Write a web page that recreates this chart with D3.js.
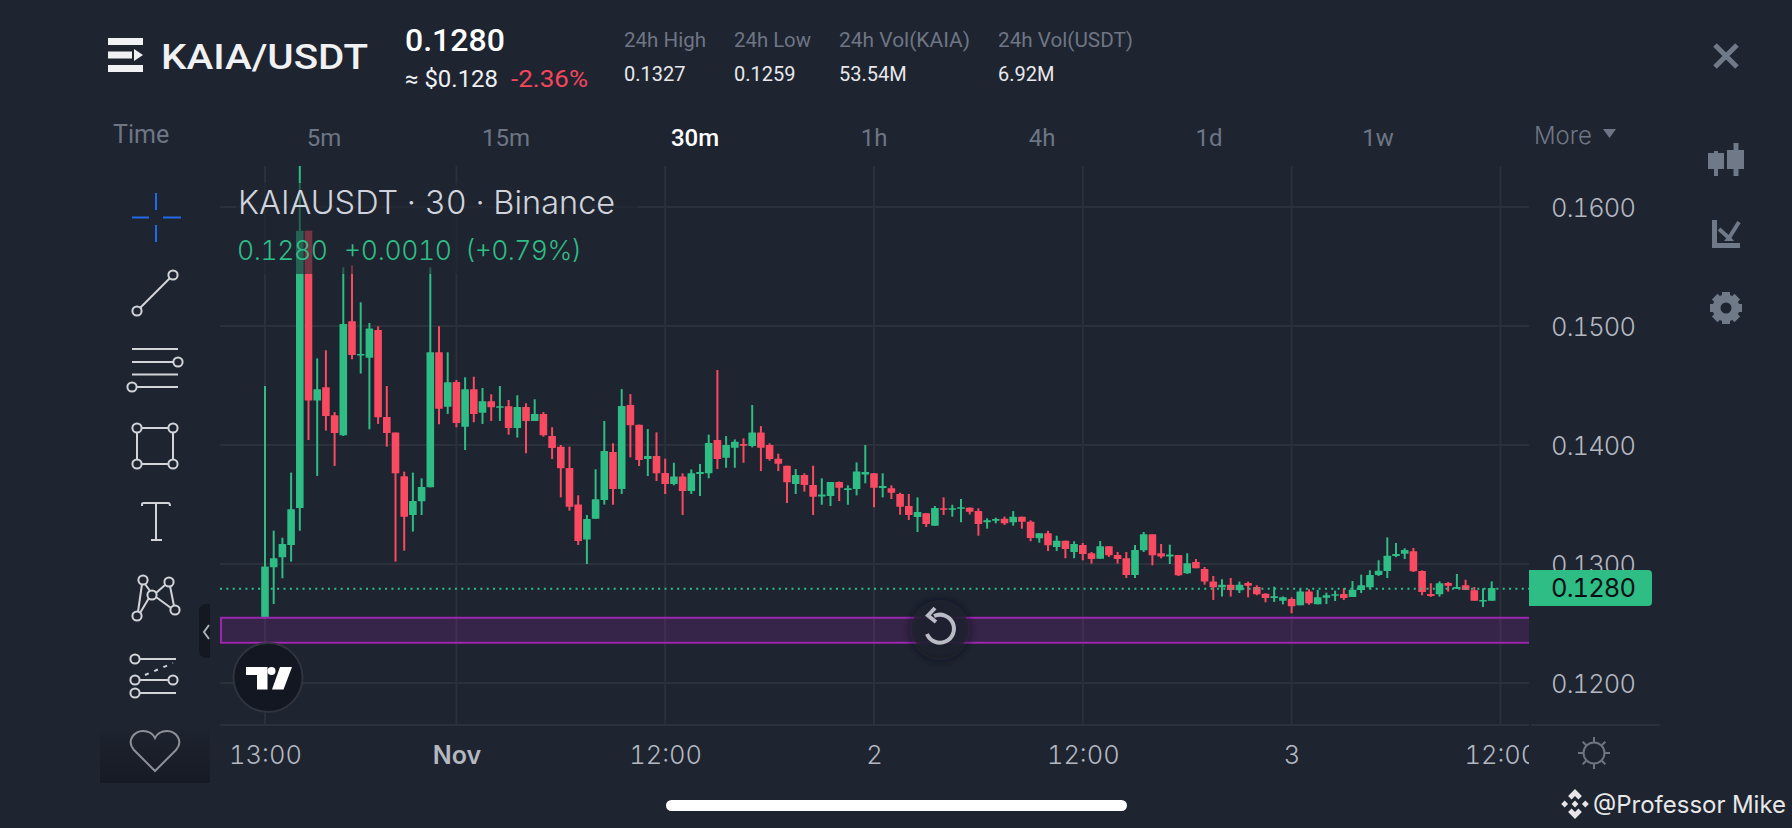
<!DOCTYPE html>
<html>
<head>
<meta charset="utf-8">
<title>KAIA/USDT</title>
<script src="https://cdn.jsdelivr.net/npm/d3@7"></script>
<style>
  html, body { margin: 0; padding: 0; background: #1e2430; overflow: hidden; }
  svg { display: block; }
  text { font-family: Inter, Roboto, sans-serif; font-variant-numeric: tabular-nums; }
  .head text { font-family: Roboto, sans-serif; }
</style>
</head>
<body>
<svg id="chart" width="1792" height="828"></svg>
<script>
const opens = [
  .12546,.12972,.13056,.13160,.13471,.15801,.14373,.14485,.14249,.14081,
  .15039,.14754,.14734,.14966,.14236,.14104,.13737,.13412,.13527,.13644,
  .14779,.14322,.14530,.14154,.14468,.14272,.14367,.14317,.14325,.14143,
  .14319,.14202,.14261,.14076,.13986,.13807,.13499,.13205,.13381,.13538,
  .13941,.13630,.14336,.14171,.13882,.13907,.13764,.13672,.13736,.13613,
  .13756,.13762,.14042,.13893,.13977,.14008,.13991,.14106,.14000,.13885,
  .13826,.13672,.13748,.13664,.13568,.13571,.13689,.13622,.13630,.13753,
  .13762,.13638,.13636,.13588,.13487,.13395,.13426,.13322,.13468,.13459,
  .13465,.13473,.13445,.13350,.13364,.13381,.13350,.13398,.13356,.13216,
  .13258,.13143,.13196,.13101,.13160,.13090,.13045,.13149,.13076,.13048,
  .12908,.13115,.13249,.13090,.13062,.13076,.12922,.13017,.12958,.12852,
  .12804,.12826,.12779,.12840,.12807,.12751,.12714,.12692,.12706,.12653,
  .12768,.12661,.12717,.12737,.12748,.12723,.12782,.12804,.12908,.12941,
  .13067,.13087,.13107,.12941,.12748,.12745,.12840,.12793,.12821,.12779,
  .12692,.12692
];
const highs = [
  .14496,.13280,.13221,.13768,.16347,.15801,.14728,.14796,.14277,.15493,
  .15510,.15199,.15025,.14997,.14496,.14104,.13776,.13768,.13720,.15493,
  .14997,.14779,.14546,.14569,.14574,.14479,.14426,.14496,.14378,.14418,
  .14350,.14384,.14277,.14149,.14000,.13986,.13577,.13412,.13796,.14202,
  .14014,.14470,.14428,.14171,.14134,.14106,.13885,.13851,.13762,.13795,
  .13840,.14087,.14630,.14075,.14047,.14056,.14336,.14159,.14014,.13927,
  .13826,.13798,.13762,.13826,.13720,.13689,.13694,.13661,.13854,.14000,
  .13764,.13762,.13661,.13599,.13588,.13560,.13426,.13487,.13560,.13498,
  .13546,.13476,.13468,.13384,.13389,.13398,.13445,.13398,.13367,.13258,
  .13280,.13238,.13196,.13191,.13177,.13101,.13193,.13149,.13101,.13101,
  .13160,.13269,.13249,.13168,.13163,.13076,.13090,.13042,.12975,.12899,
  .12871,.12882,.12852,.12852,.12821,.12754,.12810,.12728,.12720,.12787,
  .12787,.12782,.12759,.12776,.12798,.12857,.12910,.12947,.13031,.13224,
  .13177,.13132,.13135,.12947,.12838,.12854,.12849,.12916,.12868,.12807,
  .12796,.12854
];
const lows = [
  .12546,.12664,.12880,.13020,.13280,.14042,.13740,.14121,.13824,.14076,
  .14720,.14600,.14132,.14177,.13986,.13020,.13112,.13272,.13412,.13644,
  .14174,.14261,.14149,.13958,.14191,.14177,.14202,.14202,.14087,.14062,
  .13930,.14202,.14070,.13882,.13560,.13448,.13160,.13000,.13381,.13499,
  .13498,.13588,.13896,.13823,.13739,.13697,.13588,.13661,.13412,.13588,
  .13571,.13720,.13798,.13809,.13809,.13851,.13980,.13781,.13868,.13781,
  .13512,.13588,.13608,.13412,.13498,.13487,.13529,.13498,.13577,.13678,
  .13476,.13560,.13546,.13414,.13370,.13269,.13311,.13322,.13412,.13398,
  .13350,.13417,.13238,.13297,.13342,.13328,.13322,.13297,.13191,.13179,
  .13109,.13109,.13048,.13048,.13031,.13003,.13045,.13059,.13003,.12882,
  .12882,.13101,.12989,.13048,.13000,.12899,.12916,.12964,.12826,.12698,
  .12726,.12726,.12756,.12720,.12737,.12678,.12681,.12661,.12586,.12653,
  .12658,.12661,.12664,.12689,.12698,.12723,.12756,.12787,.12899,.12882,
  .13056,.13042,.12933,.12737,.12723,.12726,.12768,.12790,.12782,.12692,
  .12639,.12692
];
const closes = [
  .12978,.13048,.13168,.13460,.15801,.14373,.14468,.14244,.14101,.15017,
  .14756,.14765,.14980,.14233,.14101,.13762,.13398,.13530,.13647,.14779,
  .14305,.14527,.14185,.14468,.14261,.14367,.14317,.14325,.14143,.14319,
  .14202,.14261,.14081,.13975,.13804,.13482,.13193,.13378,.13544,.13950,
  .13630,.14327,.14165,.13874,.13907,.13762,.13672,.13736,.13613,.13762,
  .13773,.14017,.13882,.14000,.14028,.13994,.14106,.13977,.13882,.13843,
  .13686,.13748,.13664,.13566,.13585,.13689,.13641,.13636,.13778,.13773,
  .13641,.13655,.13599,.13482,.13412,.13437,.13336,.13470,.13456,.13468,
  .13476,.13440,.13336,.13367,.13378,.13342,.13398,.13356,.13219,.13258,
  .13157,.13196,.13126,.13168,.13084,.13042,.13149,.13073,.13042,.12908,
  .13118,.13249,.13073,.13062,.13079,.12905,.13006,.12964,.12852,.12804,
  .12826,.12782,.12826,.12818,.12745,.12714,.12728,.12720,.12644,.12768,
  .12670,.12720,.12737,.12745,.12714,.12784,.12821,.12908,.12944,.13070,
  .13084,.13118,.12939,.12765,.12731,.12838,.12818,.12807,.12782,.12692,
  .12698,.12798
];

const priceTicks = [0.12, 0.13, 0.14, 0.15, 0.16];
const timeTickIndex = [0, 22, 46, 70, 94, 118, 142];
const timeTickLabels = ['13:00', 'Nov', '12:00', '2', '12:00', '3', '12:00'];
const lastPrice = 0.128;
const zoneTop = 0.12548;
const zoneBottom = 0.12338;

const tabs = ['5m', '15m', '30m', '1h', '4h', '1d', '1w'];
const tabCenters = [324, 506, 695, 874, 1042, 1209, 1378];
const statLabels = ['24h High', '24h Low', '24h Vol(KAIA)', '24h Vol(USDT)'];
const statValues = ['0.1327', '0.1259', '53.54M', '6.92M'];
const statLeft = [624, 734, 839, 998];
const statWidth = [82, 77, 131, 135];

const BG = '#1e2430', GRID = '#2b303b', UP = '#2ebd85', DOWN = '#fa4a61';
const MUTED = '#6e7685', TOOL = '#d3d4d8';
const plot = { left: 220, right: 1529, top: 166, bottom: 725 };

const t0 = Date.UTC(2024, 9, 31, 13, 0);
const HALF_HOUR = 30 * 60 * 1000;
const timeAt = i => new Date(t0 + i * HALF_HOUR);

const x = d3.scaleUtc().domain([timeAt(0), timeAt(142)]).range([265, 1500.4]);
const y = d3.scaleLinear().domain([0.16, 0.12]).range([207, 683]);

const svg = d3.select('#chart');
svg.append('rect').attr('width', 1792).attr('height', 828).attr('fill', BG);

const defs = svg.append('defs');
defs.append('clipPath').attr('id', 'plotClip').append('rect')
  .attr('x', plot.left).attr('y', plot.top)
  .attr('width', plot.right - plot.left).attr('height', plot.bottom - plot.top);
defs.append('clipPath').attr('id', 'timeClip').append('rect')
  .attr('x', 200).attr('y', 728).attr('width', plot.right - 200).attr('height', 60);
const fade = defs.append('linearGradient').attr('id', 'fade')
  .attr('x1', 0).attr('y1', 0).attr('x2', 0).attr('y2', 1);
fade.append('stop').attr('offset', 0).attr('stop-color', '#161a24').attr('stop-opacity', 0);
fade.append('stop').attr('offset', 1).attr('stop-color', '#161a24').attr('stop-opacity', 1);
const shadow = defs.append('filter').attr('id', 'btnShadow')
  .attr('x', '-40%').attr('y', '-40%').attr('width', '180%').attr('height', '180%');
shadow.append('feGaussianBlur').attr('stdDeviation', 4);

// grid
const grid = svg.append('g');
grid.selectAll('line.h').data(priceTicks).enter().append('line')
  .attr('class', 'h')
  .attr('x1', plot.left).attr('x2', plot.right)
  .attr('y1', d => y(d)).attr('y2', d => y(d))
  .attr('stroke', GRID).attr('stroke-width', 2);
grid.selectAll('line.v').data(timeTickIndex).enter().append('line')
  .attr('class', 'v')
  .attr('x1', d => x(timeAt(d))).attr('x2', d => x(timeAt(d)))
  .attr('y1', plot.top).attr('y2', plot.bottom)
  .attr('stroke', GRID).attr('stroke-width', 2);
grid.append('line').attr('x1', plot.left).attr('x2', plot.right)
  .attr('y1', plot.bottom).attr('y2', plot.bottom).attr('stroke', GRID).attr('stroke-width', 2);
grid.append('line').attr('x1', plot.right + 2).attr('x2', 1660)
  .attr('y1', plot.bottom).attr('y2', plot.bottom).attr('stroke', GRID).attr('stroke-width', 2);

// candles
const candles = svg.append('g').attr('clip-path', 'url(#plotClip)');
const idx = d3.range(opens.length);
const candleColor = i => closes[i] >= opens[i] ? UP : DOWN;
candles.selectAll('line.wick').data(idx).enter().append('line')
  .attr('class', 'wick')
  .attr('x1', i => x(timeAt(i))).attr('x2', i => x(timeAt(i)))
  .attr('y1', i => y(highs[i])).attr('y2', i => y(lows[i]))
  .attr('stroke', candleColor).attr('stroke-width', 2);
candles.selectAll('rect.body').data(idx).enter().append('rect')
  .attr('class', 'body')
  .attr('x', i => x(timeAt(i)) - 3.8).attr('width', 7.6)
  .attr('y', i => y(Math.max(opens[i], closes[i])))
  .attr('height', i => Math.max(1.5, Math.abs(y(opens[i]) - y(closes[i]))))
  .attr('rx', 0.5)
  .attr('fill', candleColor);

// drawn zone
svg.append('rect')
  .attr('x', plot.left + 1).attr('width', plot.right - plot.left - 1)
  .attr('y', y(zoneTop)).attr('height', y(zoneBottom) - y(zoneTop))
  .attr('fill', 'rgba(156,39,176,0.2)');
svg.selectAll('line.zone').data([zoneTop, zoneBottom]).enter().append('line')
  .attr('class', 'zone')
  .attr('x1', plot.left).attr('x2', plot.right)
  .attr('y1', d => y(d)).attr('y2', d => y(d))
  .attr('stroke', '#9b27af').attr('stroke-width', 2);
svg.append('line')
  .attr('x1', plot.left + 1).attr('x2', plot.left + 1)
  .attr('y1', y(zoneTop)).attr('y2', y(zoneBottom))
  .attr('stroke', '#9b27af').attr('stroke-width', 2);

// last price line
svg.append('line')
  .attr('x1', plot.left).attr('x2', plot.right)
  .attr('y1', y(lastPrice) + 1).attr('y2', y(lastPrice) + 1)
  .attr('stroke', UP).attr('stroke-width', 2).attr('stroke-dasharray', '2 4.35');

// legend veil over the candles
svg.append('rect').attr('x', 236).attr('y', 183).attr('width', 402).attr('height', 45)
  .attr('fill', BG).attr('fill-opacity', 0.6);
svg.append('rect').attr('x', 236).attr('y', 228).attr('width', 352).attr('height', 46)
  .attr('fill', BG).attr('fill-opacity', 0.6);
svg.append('text').attr('x', 238).attr('y', 214)
  .attr('font-size', 32.5).attr('font-weight', 300).attr('fill', '#d1d4dc')
  .text('KAIAUSDT · 30 · Binance');
const legendParts = ['0.1280', '+0.0010', '(+0.79%)'];
const legendLeft = [237, 344, 465];
const legendWidth = [91, 108, 117];
svg.selectAll('text.legend').data(legendParts).enter().append('text')
  .attr('class', 'legend')
  .attr('x', (d, i) => legendLeft[i]).attr('y', 260)
  .attr('textLength', (d, i) => legendWidth[i])
  .attr('font-size', 26.5).attr('font-weight', 300).attr('fill', UP)
  .text(d => d);

// price axis
const yAxis = svg.append('g').attr('transform', 'translate(1551,0)')
  .call(d3.axisRight(y).tickValues(priceTicks).tickFormat(d3.format('.4f')).tickSize(0).tickPadding(0));
yAxis.select('.domain').remove();
yAxis.selectAll('text')
  .attr('font-size', 25.5).attr('font-weight', 300).attr('fill', '#b4b8c0')
  .attr('font-family', 'Inter, Roboto, sans-serif')
  .attr('textLength', 85)
  .attr('dy', '0.36em');

svg.append('path')
  .attr('d', 'M1529,570 H1648 a4,4 0 0 1 4,4 V602 a4,4 0 0 1 -4,4 H1529 Z')
  .attr('fill', UP);
svg.append('text').attr('x', 1551).attr('y', y(lastPrice))
  .attr('dy', '0.36em')
  .attr('textLength', 85)
  .attr('font-size', 25.5).attr('font-weight', 400).attr('fill', '#0a0d12')
  .text(d3.format('.4f')(lastPrice));

// time axis
const xAxis = svg.append('g').attr('clip-path', 'url(#timeClip)')
  .append('g').attr('transform', 'translate(0,740)')
  .call(d3.axisBottom(x).tickValues(timeTickIndex.map(timeAt))
    .tickFormat((d, i) => timeTickLabels[i]).tickSize(0).tickPadding(0));
xAxis.select('.domain').remove();
xAxis.selectAll('text')
  .attr('font-size', 25.5).attr('font-weight', 300).attr('fill', '#b4b8c0')
  .attr('font-family', 'Inter, Roboto, sans-serif')
  .attr('y', 24).attr('dy', 0)
  .filter((d, i) => timeTickLabels[i] === 'Nov')
  .attr('font-weight', 600).attr('font-size', 25);

// header
const head = svg.append('g').attr('class', 'head');
head.append('g').attr('fill', '#f0f1f3').selectAll('rect')
  .data([[108, 38, 35, 7], [108, 65, 35, 7], [108, 51.5, 24, 7]]).enter().append('rect')
  .attr('x', d => d[0]).attr('y', d => d[1]).attr('width', d => d[2]).attr('height', d => d[3]);
head.append('path').attr('d', 'M134,49 L143,55 L134,61 Z').attr('fill', '#f0f1f3');
head.append('text').attr('x', 161).attr('y', 69).attr('font-size', 35).attr('font-weight', 500)
  .attr('textLength', 207).attr('lengthAdjust', 'spacingAndGlyphs')
  .attr('fill', '#f0f1f3').text('KAIA/USDT');
head.append('text').attr('x', 405).attr('y', 51).attr('font-size', 32).attr('font-weight', 500)
  .attr('fill', '#ffffff').text('0.1280');
head.append('text').attr('x', 405).attr('y', 87).attr('font-size', 23).attr('font-weight', 400)
  .attr('textLength', 93).attr('lengthAdjust', 'spacingAndGlyphs')
  .attr('fill', '#f0f1f3').text('≈ $0.128');
head.append('text').attr('x', 511).attr('y', 87).attr('font-size', 23).attr('font-weight', 400)
  .attr('textLength', 77).attr('lengthAdjust', 'spacingAndGlyphs')
  .attr('fill', '#f6465d').text('-2.36%');
head.selectAll('text.statLabel').data(statLabels).enter().append('text')
  .attr('class', 'statLabel')
  .attr('x', (d, i) => statLeft[i]).attr('y', 47)
  .attr('textLength', (d, i) => statWidth[i]).attr('lengthAdjust', 'spacingAndGlyphs')
  .attr('font-size', 20).attr('fill', MUTED).text(d => d);
head.selectAll('text.statValue').data(statValues).enter().append('text')
  .attr('class', 'statValue')
  .attr('x', (d, i) => statLeft[i]).attr('y', 81)
  .attr('font-size', 20).attr('fill', '#e8e9ec').text(d => d);
head.append('text').attr('x', 113).attr('y', 143).attr('font-size', 25)
  .attr('fill', MUTED).text('Time');
head.selectAll('text.tab').data(tabs).enter().append('text')
  .attr('class', 'tab')
  .attr('x', (d, i) => tabCenters[i]).attr('y', 146)
  .attr('text-anchor', 'middle').attr('font-size', 24)
  .attr('font-weight', d => d === '30m' ? 500 : 400)
  .attr('fill', d => d === '30m' ? '#ffffff' : MUTED)
  .text(d => d);
svg.append('text').attr('x', 1534).attr('y', 144).attr('font-size', 24).attr('font-weight', 300)
  .attr('fill', MUTED).text('More');
svg.append('path').attr('d', 'M1603,129 H1616 L1609.5,138 Z').attr('fill', MUTED);

// right icons
const ICON = '#6f7988';
svg.append('path').attr('d', 'M1715,45 L1737,67 M1737,45 L1715,67')
  .attr('stroke', ICON).attr('stroke-width', 5).attr('fill', 'none');
svg.append('g').attr('fill', ICON).selectAll('rect')
  .data([[1708, 153, 16, 16], [1714, 151, 4, 25], [1727, 150, 17, 19], [1733.5, 143, 5, 33]]).enter().append('rect')
  .attr('x', d => d[0]).attr('y', d => d[1]).attr('width', d => d[2]).attr('height', d => d[3]);
svg.append('path').attr('d', 'M1712,220 H1717 V243 H1740 V248 H1712 Z').attr('fill', ICON);
svg.append('path').attr('d', 'M1719,229 L1729,238 L1739,222').attr('stroke', ICON).attr('stroke-width', 4).attr('fill', 'none');
svg.append('path').attr('d', 'M1724,241 L1729,235 L1734,241 Z').attr('fill', ICON);
svg.append('circle').attr('cx', 1726).attr('cy', 308).attr('r', 9.5)
  .attr('fill', 'none').attr('stroke', ICON).attr('stroke-width', 8);
svg.append('g').attr('fill', ICON).selectAll('rect').data(d3.range(8)).enter().append('rect')
  .attr('x', 1722).attr('y', 292).attr('width', 8).attr('height', 6)
  .attr('transform', d => `rotate(${d * 45} 1726 308)`);

// left toolbar
const tools = svg.append('g').attr('fill', 'none').attr('stroke', TOOL).attr('stroke-width', 2);
const toolCircles = [
  [137, 311], [173, 275], [178, 362], [132, 387],
  [137, 428], [173, 428], [137, 464], [173, 464],
  [143, 580], [169, 582], [152, 595], [137, 616], [175, 610],
  [135, 659], [135, 680], [173, 680], [135, 693]
];
tools.append('path').attr('d', [
  'M140,308 L170,278',
  'M132,349 H178 M132,362 H173 M132,374.5 H178 M137,387 H178',
  'M141,428 H169 M141,464 H169 M137,432 V460 M173,432 V460',
  'M142,506 V504 Q142,503 144,503 H168 Q170,503 170,506 M156,503 V540 M151,540 H162',
  'M138,612 L142,584 M140,613 L149,598 M145,584 L150,591 M156,593 L165,585 M170,586 L174,606 M156,597 L171,608',
  'M140,659 H176 M140,680 H168 M140,693 H176'
].join(' '));
tools.append('path').attr('d', 'M145,675 L173,663').attr('stroke-dasharray', '4 6');
tools.selectAll('circle').data(toolCircles).enter().append('circle')
  .attr('cx', d => d[0]).attr('cy', d => d[1]).attr('r', 4.6);
svg.append('path')
  .attr('d', 'M156,193 V210 M156,225 V242 M132,217.5 H149 M163,217.5 H181')
  .attr('stroke', '#1f6ae8').attr('stroke-width', 2).attr('fill', 'none');
svg.append('rect').attr('x', 100).attr('y', 725).attr('width', 110).attr('height', 58).attr('fill', 'url(#fade)');
svg.append('path')
  .attr('d', 'M155,771 L134,750 C126,741 134,731 143,731 C149,731 153,734 155,738 C157,734 161,731 167,731 C176,731 184,741 176,750 Z')
  .attr('fill', 'none').attr('stroke', '#8e9097').attr('stroke-width', 2);

// collapse handle
svg.append('path')
  .attr('d', 'M210,604 H207 Q199,604 199,612 V650 Q199,658 207,658 H210 Z').attr('fill', '#141821');
svg.append('path').attr('d', 'M209,625 L204,632 L209,639')
  .attr('fill', 'none').attr('stroke', '#a9b4ba').attr('stroke-width', 2);

// tradingview badge
svg.append('circle').attr('cx', 268).attr('cy', 677.5).attr('r', 34.5)
  .attr('fill', '#131722').attr('stroke', '#2f343f').attr('stroke-width', 2);
svg.append('path').attr('d', 'M246,667 H267.5 V689.5 H257 V675 H246 Z M280,667 H292 L283.5,689.5 H272 Z').attr('fill', '#ffffff');
svg.append('circle').attr('cx', 271.5).attr('cy', 671).attr('r', 4).attr('fill', '#ffffff');

// reset button
svg.append('circle').attr('cx', 940).attr('cy', 630).attr('r', 30).attr('fill', '#141722').attr('fill-opacity', 0.6).attr('filter', 'url(#btnShadow)');
svg.append('circle').attr('cx', 940).attr('cy', 628).attr('r', 28).attr('fill', '#1f2330').attr('fill-opacity', 0.75);
svg.append('path')
  .attr('d', 'M934,616 A14,14 0 1 1 927,634')
  .attr('fill', 'none').attr('stroke', '#b9bcc4').attr('stroke-width', 4);
svg.append('path')
  .attr('d', 'M935,608 L928,615.5 L936,622')
  .attr('fill', 'none').attr('stroke', '#b9bcc4').attr('stroke-width', 4);

// sun icon
const sun = svg.append('g').attr('transform', 'translate(1594,753)')
  .attr('stroke', '#6f7580').attr('stroke-width', 2).attr('fill', 'none');
sun.append('circle').attr('r', 10.5);
sun.selectAll('line').data(d3.range(8)).enter().append('line')
  .attr('y1', -11).attr('y2', -16)
  .attr('transform', d => `rotate(${d * 45})`);

// footer
svg.append('rect').attr('x', 666).attr('y', 800).attr('width', 461).attr('height', 11).attr('rx', 5.5).attr('fill', '#ffffff');
const mark = svg.append('g').attr('transform', 'translate(1575,804) scale(1.15)').attr('fill', '#e6e6e6');
mark.append('path').attr('d', 'M0,-13 L6,-7 L3,-4 L0,-7 L-3,-4 L-6,-7 Z M0,13 L6,7 L3,4 L0,7 L-3,4 L-6,7 Z');
mark.append('path').attr('d', 'M0,-3 L3,0 L0,3 L-3,0 Z M-9,-3 L-6,0 L-9,3 L-12,0 Z M9,-3 L12,0 L9,3 L6,0 Z');
svg.append('text').attr('x', 1593).attr('y', 813)
  .attr('font-family', '"Noto Sans", sans-serif').attr('font-size', 24).attr('fill', '#e8e8e8')
  .text('@Professor Mike');
</script>
</body>
</html>
